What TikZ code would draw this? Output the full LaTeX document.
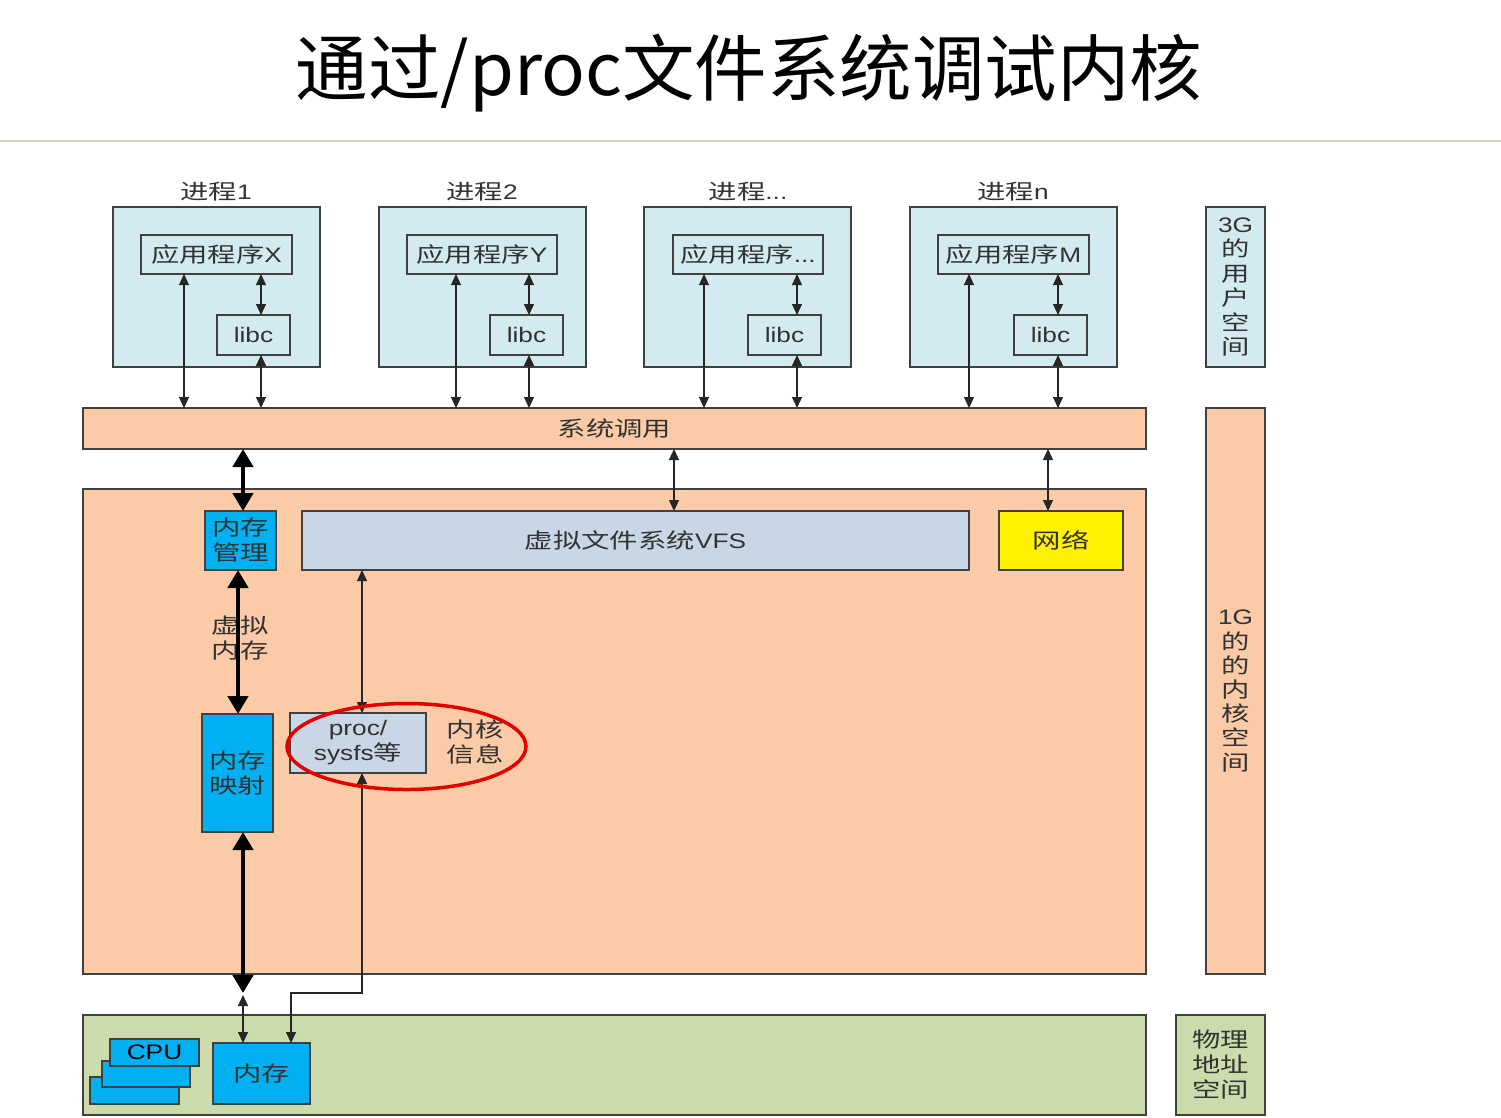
\documentclass[tikz,border=0pt]{standalone}
\usepackage{fontspec}
\setmainfont{Liberation Sans}
\newfontfamily\cjk{Noto Sans CJK SC}
\newfontfamily\cjkw[FakeStretch=1.35]{Noto Sans CJK SC}
\newfontfamily\latw[FakeStretch=1.25]{Liberation Sans}
\usetikzlibrary{arrows.meta,shapes.geometric}
\definecolor{lcyan}{RGB}{211,235,240}
\definecolor{peach}{RGB}{250,203,166}
\definecolor{lgreen}{RGB}{204,219,171}
\definecolor{blu}{RGB}{0,176,240}
\definecolor{vfsc}{RGB}{200,214,230}
\definecolor{bord}{RGB}{64,64,64}
\definecolor{txt}{RGB}{50,50,50}
\definecolor{sep}{RGB}{217,214,191}
\definecolor{ellred}{RGB}{228,0,0}
\newcommand\zh[1]{{\cjkw #1}}
\newcommand\dfont{\fontsize{21}{25}\selectfont\latw}
\newcommand\mybox[7]{\node[bx,#1,minimum width={#5pt-#3pt},minimum height={#6pt-#4pt}] (#2) at ({(#3+#5)/2},{(#4+#6)/2}) {#7};}
\begin{document}
\begin{tikzpicture}[x=1pt,y=-1pt,
  bx/.style={draw=bord, line width=1.3pt, inner sep=0pt, outer sep=0pt, text=txt, font=\dfont, align=center},
  lbl/.style={inner sep=0pt, text=txt, font=\dfont, align=center},
  darr/.style={{Triangle[length=11pt,width=10pt]}-{Triangle[length=11pt,width=10pt]}, line width=1.2pt, draw=black!85},
  tarr/.style={{Triangle[length=18pt,width=20pt]}-{Triangle[length=18pt,width=20pt]}, line width=4.5pt, draw=black},
]
\fill[white] (0,0) rectangle (1501,1117);
\useasboundingbox (0,0) rectangle (1501,1117);

% title
\node[inner sep=0pt, font=\cjk\fontsize{72.5}{80}\selectfont] (title) at (749,73) {通过/proc文件系统调试内核};
\draw[line width=2.5pt, sep] (0,141) -- (1501,141);

% process boxes
\mybox{fill=lcyan}{p1}{113}{207}{320}{367}{}
\mybox{fill=lcyan}{p2}{379}{207}{586}{367}{}
\mybox{fill=lcyan}{p3}{644}{207}{851}{367}{}
\mybox{fill=lcyan}{p4}{910}{207}{1117}{367}{}
\node[lbl] (n1) at (216,192) {\zh{进程}1};
\node[lbl] (n2) at (482,192) {\zh{进程}2};
\node[lbl] (n3) at (748,192) {\zh{进程}...};
\node[lbl] (n4) at (1013,192) {\zh{进程}n};

\mybox{fill=lcyan}{a1}{141}{235}{292}{274}{\zh{应用程序}X}
\mybox{fill=lcyan}{a2}{407}{235}{557}{274}{\zh{应用程序}Y}
\mybox{fill=lcyan}{a3}{673}{235}{823}{274}{\zh{应用程序}...}
\mybox{fill=lcyan}{a4}{938}{235}{1089}{274}{\zh{应用程序}M}

\mybox{fill=lcyan}{l1}{217}{315}{290}{355}{libc}
\mybox{fill=lcyan}{l2}{490}{315}{563}{355}{libc}
\mybox{fill=lcyan}{l3}{748}{315}{821}{355}{libc}
\mybox{fill=lcyan}{l4}{1014}{315}{1087}{355}{libc}

% system call bar
\mybox{fill=peach}{sys}{83}{408}{1146}{449}{\zh{系统调用}}

% arrows processes <-> syscall
\coordinate (c1L) at (184,390); \coordinate (c1R) at (261,390);
\coordinate (c2L) at (456,390); \coordinate (c2R) at (529,390);
\coordinate (c3L) at (704,390); \coordinate (c3R) at (797,390);
\coordinate (c4L) at (969,390); \coordinate (c4R) at (1058,390);
\foreach \i in {1,2,3,4}{
  \draw[darr] (a\i.south -| c\i L) -- (sys.north -| c\i L);
  \draw[darr] (a\i.south -| c\i R) -- (l\i.north -| c\i R);
  \draw[darr] (l\i.south -| c\i R) -- (sys.north -| c\i R);
}

% kernel box
\mybox{fill=peach}{kern}{83}{489}{1146}{974}{}

\mybox{fill=blu}{mgr}{205}{511}{276}{570}{\zh{内存}\\\zh{管理}}
\mybox{fill=vfsc}{vfs}{302}{511}{969}{570}{\zh{虚拟文件系统}VFS}
\mybox{fill=yellow}{net}{999}{511}{1123}{570}{\zh{网络}}

\coordinate (k0) at (243,460);
\coordinate (kv) at (674,460);
\coordinate (kn) at (1048,460);
\draw[tarr] (sys.south -| k0) -- (mgr.north -| k0);
\draw[darr] (sys.south -| kv) -- (vfs.north -| kv);
\draw[darr] (sys.south -| kn) -- (net.north -| kn);

\mybox{fill=blu}{mm}{202}{714}{273}{832}{\zh{内存}\\\zh{映射}}
\mybox{fill=vfsc}{proc}{290}{713}{426}{773}{proc/\\sysfs\zh{等}}

\node[lbl] (vm) at (240,638) {\zh{虚拟}\\\zh{内存}};
\coordinate (k3) at (238,640);
\draw[tarr] (mgr.south -| k3) -- (mm.north -| k3);

\node[lbl] (kinfo) at (475,742) {\zh{内核}\\\zh{信息}};

\coordinate (c5) at (362,640);
\draw[darr] (proc.north -| c5) -- (vfs.south -| c5);

% physical bar
\mybox{fill=lgreen}{phys}{83}{1015}{1146}{1115}{}
\mybox{fill=blu}{mem}{213}{1043}{310}{1104}{\zh{内存}}
\mybox{fill=blu}{cpu3}{90}{1077}{179}{1104}{}
\mybox{fill=blu}{cpu2}{102}{1061}{190}{1087}{}
\mybox{fill=blu,text=black}{cpu1}{110}{1039}{199}{1066}{CPU}

\coordinate (k1) at (243,993);
\coordinate (k2) at (243,995);
\coordinate (c6) at (291,1000);
\draw[tarr] (mm.south -| k1) -- (k1);
\draw[darr] (k2) -- (mem.north -| k2);
\draw[darr] (proc.south -| c5) -- (c5 |- k1) -| (mem.north -| c6);

% red ellipse
\node[draw=ellred, ellipse, line width=3.5pt, minimum width=239pt, minimum height=86pt, inner sep=0pt] (ell) at (406.5,746.5) {};

% right side bars
\mybox{fill=lcyan,font=\fontsize{21}{24.5}\selectfont\latw}{u3g}{1206}{207}{1265}{367}{3G\\\zh{的}\\\zh{用}\\\zh{户}\\\zh{空}\\\zh{间}}
\mybox{fill=peach,font=\fontsize{21}{24.2}\selectfont\latw}{k1g}{1206}{408}{1265}{974}{1G\\\zh{的}\\\zh{的}\\\zh{内}\\\zh{核}\\\zh{空}\\\zh{间}}
\mybox{fill=lgreen}{pas}{1176}{1015}{1265}{1115}{\zh{物理}\\\zh{地址}\\\zh{空间}}
\end{tikzpicture}
\end{document}
